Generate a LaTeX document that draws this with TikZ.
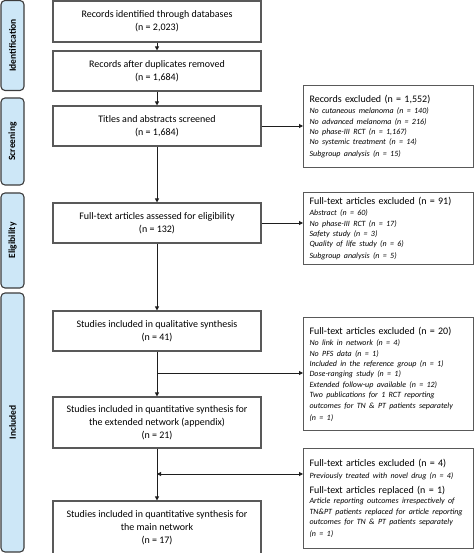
\documentclass[tikz,border=0pt]{standalone}
\usepackage{fontspec}
\setmainfont{Carlito}
\usetikzlibrary{arrows.meta}
\definecolor{stagefill}{HTML}{CDE7F7}
\definecolor{stageline}{HTML}{3C3C3C}
\definecolor{boxline}{HTML}{595959}
\definecolor{arr}{HTML}{1E1E1E}
\begin{document}
\begin{tikzpicture}[x=1pt,y=-1pt,
  mainbox/.style={draw=boxline, line width=1.1pt, fill=white, align=center, minimum width=208pt, inner sep=2pt, font=\fontsize{10}{12.8}\selectfont},
  sidebox/.style={draw=boxline, line width=1.1pt, fill=white, align=left, text width=158pt, inner xsep=6pt, inner ysep=4pt, anchor=north west, font=\fontsize{10}{12}\selectfont},
  stagebox/.style={draw=stageline, line width=1.1pt, fill=stagefill, rounded corners=4pt, rotate=90, minimum height=23pt, inner sep=0pt, font=\fontsize{9.5}{11}\selectfont\bfseries},
  conn/.style={draw=arr, line width=0.9pt, -{Triangle[length=4pt,width=4pt]}},
  biconn/.style={draw=arr, line width=0.9pt, {Triangle[length=4pt,width=4pt]}-{Triangle[length=4pt,width=4pt]}}
]
\useasboundingbox (0,0) rectangle (474,553);
\newcommand{\sub}{\fontsize{8}{10.4}\selectfont\itshape}

% stage labels
\node[stagebox, minimum width=90pt] (sid) at (12.5,45.5) {Identification};
\node[stagebox, minimum width=87pt] (sscr) at (12.5,141.5) {Screening};
\node[stagebox, minimum width=95pt] (selig) at (12.5,240.5) {Eligibility};
\node[stagebox, minimum width=259pt] (sinc) at (12.5,422.5) {Included};

% main boxes
\node[mainbox, minimum height=41pt] (b1) at (157,21.5) {Records identified through databases\\(n = 2,023)};
\node[mainbox, minimum height=40pt] (b2) at (157,71) {Records after duplicates removed\\(n = 1,684)};
\node[mainbox, minimum height=40pt] (b3) at (157,126) {Titles and abstracts screened\\(n = 1,684)};
\node[mainbox, minimum height=40pt] (b4) at (157,223) {Full-text articles assessed for eligibility\\(n = 132)};
\node[mainbox, minimum height=40pt] (b5) at (157,331) {Studies included in qualitative synthesis\\(n = 41)};
\node[mainbox, minimum height=51pt] (b6) at (157,422.5) {Studies included in quantitative synthesis for\\the extended network (appendix)\\(n = 21)};
\node[mainbox, minimum height=54pt] (b7) at (157,528) {Studies included in quantitative synthesis for\\the main network\\(n = 17)};

% side boxes
\node[sidebox, minimum height=82pt] (r1) at (303,85) {Records excluded (n = 1,552)\\[1pt]
{\sub No cutaneous melanoma (n = 140)\\No advanced melanoma (n = 216)\\No phase-III RCT (n = 1,167)\\No systemic treatment (n = 14)\\Subgroup analysis (n = 15)}};
\node[sidebox, minimum height=72pt] (r2) at (303,192) {Full-text articles excluded (n = 91)\\[1pt]
{\sub Abstract (n = 60)\\No phase-III RCT (n = 17)\\Safety study (n = 3)\\Quality of life study (n = 6)\\Subgroup analysis (n = 5)}};
\node[sidebox, minimum height=113pt] (r3) at (303,317) {Full-text articles excluded (n = 20)\\[1pt]
{\sub No link in network (n = 4)\\No PFS data (n = 1)\\Included in the reference group (n = 1)\\Dose-ranging study (n = 1)\\Extended follow-up available (n = 12)\\Two publications for 1 RCT reporting\\outcomes for TN \& PT patients separately\\(n = 1)}};
\node[sidebox, minimum height=100pt] (r4) at (303,448) {Full-text articles excluded (n = 4)\\
{\sub Previously treated with novel drug (n = 4)}\\[3pt]
Full-text articles replaced (n = 1)\\
{\sub Article reporting outcomes irrespectively of\\TN\&PT patients replaced for article reporting\\outcomes for TN \& PT patients separately\\(n = 1)}};

% vertical flow
\draw[conn] (b1) -- (b2);
\draw[conn] (b2) -- (b3);
\draw[conn] (b3) -- (b4);
\draw[conn] (b4) -- (b5);
\draw[conn] (b5) -- (b6);
\draw[conn] (b6) -- (b7);

% side connections
\draw[conn] (b3.east) -- (b3.east -| r1.west);
\draw[conn] (b4.east) -- (b4.east -| r2.west);
\coordinate (c1) at (157,373);
\coordinate (c2) at (157,474);
\draw[conn] (c1) -- (c1 -| r3.west);
\draw[biconn] (c2) -- (c2 -| r4.west);
\end{tikzpicture}
\end{document}
